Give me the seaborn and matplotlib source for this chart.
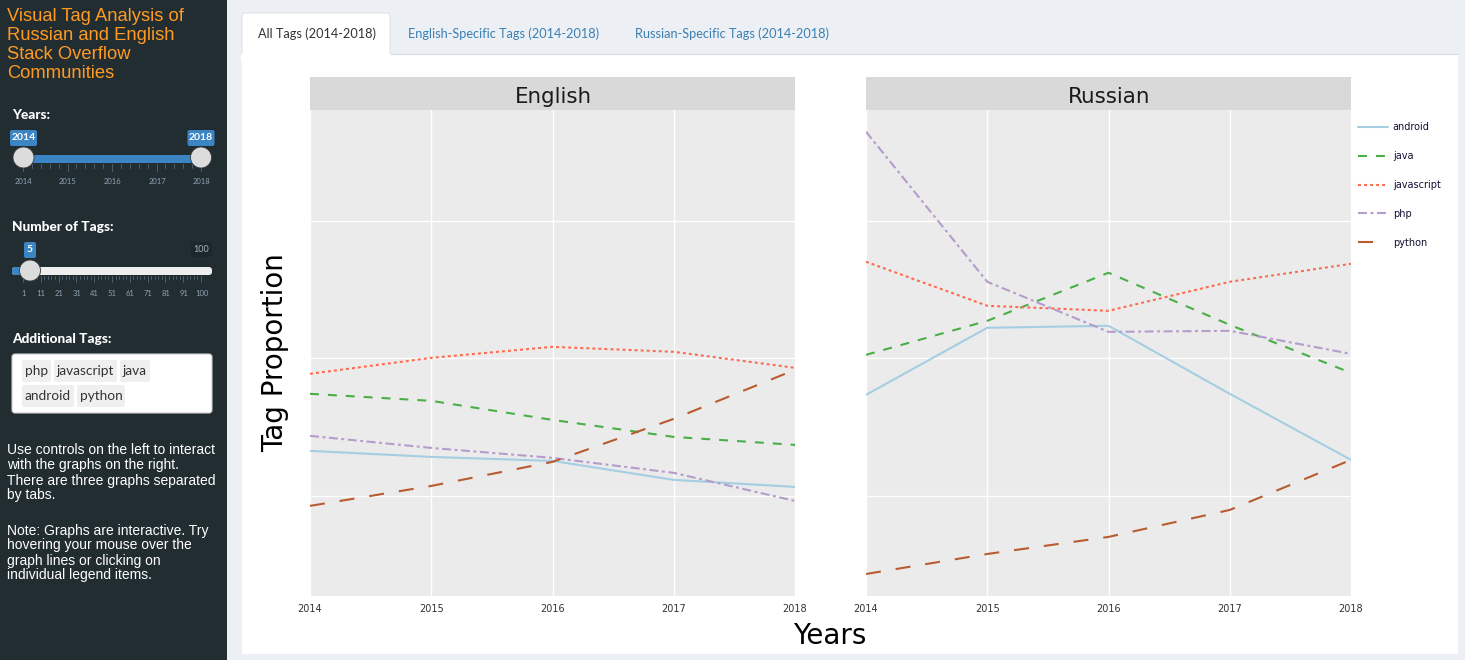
import pandas as pd
import seaborn as sns
import matplotlib
matplotlib.use("Agg")
import matplotlib.pyplot as plt
from matplotlib.patches import FancyBboxPatch, Rectangle, Circle
from matplotlib.lines import Line2D

years = [2014, 2015, 2016, 2017, 2018]
tags = ["android", "java", "javascript", "php", "python"]

# tag proportions (the y axis has no labels, scale is a guess)
english_android = [.02655, .02567, .02509, .02233, .02131]
english_java = [.03484, .03382, .03105, .02858, .02742]
english_javascript = [.03775, .04007, .04167, .04095, .03862]
english_php = [.02873, .02698, .02553, .02335, .01927]
english_python = [.01855, .02145, .02495, .03120, .03833]

russian_android = [.03469, .04444, .04473, .03484, .02524]
russian_java = [.04051, .04545, .05244, .04487, .03789]
russian_javascript = [.05404, .04764, .04691, .05113, .05374]
russian_php = [.07294, .05113, .04385, .04400, .04065]
russian_python = [.00865, .01156, .01404, .01796, .02524]

palette = {"android": "#a6cee3", "java": "#4aaf46", "javascript": "#ff6a4d",
           "php": "#b49ccb", "python": "#b85c30"}
LW = 1.5
dashes = {"android": (None, None), "java": (4.3, 4.3), "javascript": (1.4, 1.5),
          "php": (4.3, 1.7, 1.4, 1.7), "python": (7.2, 7.2)}

year_ticks = ["2014", "2015", "2016", "2017", "2018"]
tag_ticks = ["1", "11", "21", "31", "41", "51", "61", "71", "81", "91", "100"]
tab_names = ["All Tags (2014-2018)", "English-Specific Tags (2014-2018)",
             "Russian-Specific Tags (2014-2018)"]
help_first = ["Use controls on the left to interact", "with the graphs on the right.",
              "There are three graphs separated", "by tabs."]
help_second = ["Note: Graphs are interactive. Try", "hovering your mouse over the",
               "graph lines or clicking on", "individual legend items."]

W, H = 1465, 660
HELV = "Liberation Sans"
SANS = "Lato"


def long_table(series):
    rows = []
    for tag, vals in zip(tags, series):
        for y, v in zip(years, vals):
            rows.append({"year": y, "tag": tag, "prop": v})
    return pd.DataFrame(rows)


def box(ax, x0, y0, x1, y1, color, rad=3, ec="none", z=2):
    ax.add_patch(FancyBboxPatch((x0 + rad, y0 + rad), x1 - x0 - 2 * rad, y1 - y0 - 2 * rad,
                                boxstyle="round,pad=%d,rounding_size=%d" % (rad, rad),
                                fc=color, ec=ec, lw=0.8, zorder=z))


def draw_page(ax):
    ax.add_patch(Rectangle((0, 0), 227, H, fc="#222d32", ec="none"))
    ax.add_patch(Rectangle((242, 54), 1216, 600, fc="white", ec="none"))
    ax.plot([390, 1458], [53.5, 53.5], color="#d8dde3", lw=0.8, zorder=1)
    box(ax, 242, 13, 390, 60, "white", rad=3, ec="#dde2e8")
    ax.add_patch(Rectangle((241, 54), 150, 8, fc="white", ec="none", zorder=3))

    for text_x, name, col in zip([258, 408, 635], tab_names, ["#333333", "#3c7fb1", "#3c7fb1"]):
        ax.text(text_x, 33.5, name, color=col, fontsize=9.2, family=SANS, va="center", zorder=4)

    # sidebar title
    for i, line in enumerate(["Visual Tag Analysis of", "Russian and English",
                              "Stack Overflow", "Communities"]):
        ax.text(7, 16.5 + i * 19, line, color="#ff9a22", fontsize=13.2, family=HELV, va="center")

    for y, label in zip([115, 227, 339], ["Years:", "Number of Tags:", "Additional Tags:"]):
        ax.text(12, y, label, color="white", fontsize=9.8, family=SANS, weight="black", va="center")

    # years slider
    box(ax, 23, 155, 201, 163, "#3c85c4", rad=1)
    for i in range(21):
        xt = 23 + i * 178 / 20
        ax.plot([xt, xt], [164, 171 if i % 5 == 0 else 168], color="#55677a", lw=0.6, zorder=2)
    for i, lab in enumerate(year_ticks):
        ax.text(23.5 + i * 44.5, 181, lab, color="#8fa3b3", fontsize=5.5, family=SANS, ha="center", va="center")
    for xc, lab in zip([23.5, 201], ["2014", "2018"]):
        box(ax, xc - 13.5, 130, xc + 13.5, 146, "#3c85c4", rad=2)
        ax.text(xc, 138, lab, color="white", fontsize=7.5, family=SANS, weight="bold",
                ha="center", va="center", zorder=4)
        ax.add_patch(Circle((xc, 157.5), 10.5, fc="#dcdcdc", ec="#3a3a3a", lw=0.6, zorder=4))

    # number of tags slider
    box(ax, 12, 267, 212, 275, "#eeeeee", rad=3)
    box(ax, 12, 267, 30, 275, "#3c85c4", rad=3, z=3)
    for i in range(51):
        xt = 23 + i * 178 / 50
        ax.plot([xt, xt], [276, 282 if i % 5 == 0 else 279], color="#55677a", lw=0.6, zorder=2)
    for i, lab in enumerate(tag_ticks):
        ax.text(23.5 + i * 17.8, 293, lab, color="#8fa3b3", fontsize=5.5, family=SANS, ha="center", va="center")
    box(ax, 24, 242, 36, 258, "#3c85c4", rad=2)
    ax.text(30, 250, "5", color="white", fontsize=7.5, family=SANS, weight="bold",
            ha="center", va="center", zorder=4)
    box(ax, 191, 242, 212, 257, "#1c262b", rad=2)
    ax.text(201.5, 249.5, "100", color="#a8b4bc", fontsize=6.5, family=SANS, ha="center", va="center", zorder=4)
    ax.add_patch(Circle((30, 270.5), 10.5, fc="#dcdcdc", ec="#3a3a3a", lw=0.6, zorder=4))

    # selected tags box
    box(ax, 12, 354, 212, 413, "white", rad=3, ec="#cccccc")
    chips = [("php", 22, 51, 360), ("javascript", 54, 117, 360), ("java", 120, 150, 360),
             ("android", 22, 74, 385), ("python", 77, 125, 385)]
    for name, x0, x1, y0 in chips:
        box(ax, x0, y0, x1, y0 + 22, "#efefef", rad=2, z=3)
        ax.text((x0 + x1) / 2, y0 + 11, name, color="#333333", fontsize=9.8, family=SANS,
                ha="center", va="center", zorder=4)

    for i, line in enumerate(help_first):
        ax.text(7, 450.5 + i * 15, line, color="white", fontsize=10, family=HELV, va="center")
    for i, line in enumerate(help_second):
        ax.text(7, 530.5 + i * 15, line, color="white", fontsize=10, family=HELV, va="center")


def draw_panel(rect, series):
    x0, y0, x1, y1 = rect
    ax = fig.add_axes([x0 / W, 1 - y1 / H, (x1 - x0) / W, (y1 - y0) / H])
    sns.lineplot(data=long_table(series), x="year", y="prop", hue="tag", style="tag",
                 palette=palette, dashes=dashes, linewidth=LW, legend=False, ax=ax)
    ax.set_xlim(2014, 2018)
    ax.set_ylim(0.00545, 0.0761)
    ax.set_xticks(years)
    ax.set_xticklabels(year_ticks, fontsize=7, color="#333333")
    ax.set_yticks([0.02, 0.04, 0.06])
    ax.set_yticklabels([])
    ax.tick_params(axis="x", length=3, width=0.7, color="#333333", pad=2.5)
    ax.tick_params(axis="y", length=0)
    ax.grid(True, color="white", lw=1)
    ax.set_xlabel("")
    ax.set_ylabel("")
    for s in ax.spines.values():
        s.set_visible(False)
    return ax


sns.set_theme(style="darkgrid", rc={"axes.facecolor": "#ebebeb"})
plt.rcParams["font.family"] = ["DejaVu Sans"]

fig = plt.figure(figsize=(W / 100, H / 100), dpi=100, facecolor="#ecf0f5")

page = fig.add_axes([0, 0, 1, 1], zorder=-1)
page.set_xlim(0, W)
page.set_ylim(H, 0)
page.axis("off")
draw_page(page)

en_series = [english_android, english_java, english_javascript, english_php, english_python]
ru_series = [russian_android, russian_java, russian_javascript, russian_php, russian_python]
draw_panel((310, 110, 795, 596), en_series)
draw_panel((866, 110, 1351, 596), ru_series)

# facet strips
for x0, x1, name in [(310, 795, "English"), (866, 1351, "Russian")]:
    page.add_patch(Rectangle((x0, 77), x1 - x0, 33, fc="#d9d9d9", ec="none"))
    page.text((x0 + x1) / 2 + 0.5, 97, name, color="#1a1a1a", fontsize=15.4, ha="center", va="center")

page.text(275, 353, "Tag Proportion", rotation=90, fontsize=20, color="black", ha="center", va="center")
page.text(830, 636, "Years", fontsize=20, color="black", ha="center", va="center")

# legend
handles = [Line2D([0], [0], color=palette[t], lw=LW,
                  dashes=dashes[t] if t != "android" else (None, None)) for t in tags]
leg = fig.legend(handles, tags, loc="upper left", bbox_to_anchor=(1349 / W, 1 - 113.5 / H),
                 frameon=False, fontsize=7, handlelength=3.1, handletextpad=0.5,
                 labelspacing=1.94, labelcolor="#111133")

fig.savefig("out.png", dpi=100, facecolor=fig.get_facecolor())
